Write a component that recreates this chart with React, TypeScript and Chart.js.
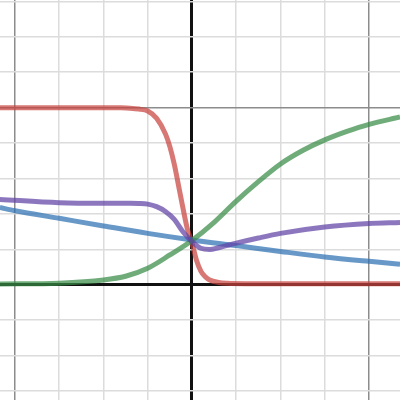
import { Chart, registerables, ChartConfiguration } from "chart.js";
import { useEffect, useRef } from "react";

Chart.register(...registerables);

// values (x: one major cell = 2, y: one major cell = 1)
const redX = [-2.17, -1.5, -1.0, -0.8, -0.7, -0.6, -0.5, -0.4, -0.3, -0.25, -0.2, -0.15, -0.1, -0.05, 0, 0.05, 0.1, 0.15, 0.2, 0.3, 0.4, 0.6, 1.0, 2.35];
const redY = [1.0, 1.0, 1.0, 0.999, 0.997, 0.992, 0.981, 0.94, 0.852, 0.78, 0.68, 0.555, 0.428, 0.311, 0.235, 0.14, 0.077, 0.045, 0.027, 0.013, 0.008, 0.006, 0.006, 0.006];

const blueX = [-2.17, -2.0, -1.5, -1.0, -0.5, 0, 0.5, 1.0, 1.5, 2.0, 2.35];
const blueY = [0.436, 0.418, 0.375, 0.332, 0.29, 0.253, 0.221, 0.188, 0.157, 0.132, 0.116];

const greenX = [-2.17, -1.5, -1.0, -0.75, -0.5, -0.25, 0, 0.25, 0.5, 0.75, 1.0, 1.25, 1.5, 1.75, 2.0, 2.35];
const greenY = [0.004, 0.009, 0.027, 0.048, 0.093, 0.168, 0.25, 0.352, 0.472, 0.582, 0.682, 0.758, 0.818, 0.866, 0.906, 0.947];

const purpleX = [-2.17, -1.5, -1.0, -0.7, -0.6, -0.5, -0.4, -0.3, -0.2, -0.1, 0, 0.1, 0.2, 0.3, 0.5, 0.75, 1.0, 1.5, 2.0, 2.35];
const purpleY = [0.482, 0.463, 0.46, 0.46, 0.459, 0.455, 0.441, 0.414, 0.369, 0.298, 0.244, 0.206, 0.199, 0.209, 0.235, 0.264, 0.29, 0.326, 0.346, 0.352];

const toPoints = (xs: number[], ys: number[]) => xs.map((x, i) => ({ x, y: ys[i] }));

const near = (v: number, step: number) => Math.abs(v / step - Math.round(v / step)) < 1e-6;

export default function App() {
  const chartRef = useRef<HTMLCanvasElement | null>(null);
  const chartInstance = useRef<Chart | null>(null);

  useEffect(() => {
    if (!chartRef.current) return;
    if (chartInstance.current) chartInstance.current.destroy();

    const line = (label: string, xs: number[], ys: number[], color: string, order: number) => ({
      label,
      data: toPoints(xs, ys),
      borderColor: color,
      borderWidth: 5,
      pointRadius: 0,
      fill: false,
      cubicInterpolationMode: "monotone" as const,
      order,
    });

    const gridColor = (major: number) => (ctx: any) => {
      const v = ctx.tick.value;
      if (Math.abs(v) < 1e-9) return "#111111";
      if (near(v, major)) return "#8c8c8c";
      return "#dcdcdc";
    };
    const gridWidth = (ctx: any) => (Math.abs(ctx.tick.value) < 1e-9 ? 3 : 1.5);

    chartInstance.current = new Chart(chartRef.current, {
      type: "line",
      data: {
        datasets: [
          line("red", redX, redY, "rgba(199,68,64,0.72)", 4),
          line("blue", blueX, blueY, "rgba(45,112,179,0.72)", 3),
          line("green", greenX, greenY, "rgba(56,140,70,0.72)", 2),
          line("purple", purpleX, purpleY, "rgba(96,66,166,0.72)", 1),
        ],
      },
      options: {
        animation: false,
        responsive: true,
        maintainAspectRatio: false,
        layout: { padding: 0 },
        plugins: { legend: { display: false }, tooltip: { enabled: false } },
        scales: {
          x: {
            type: "linear",
            min: -2.169,
            max: 2.35,
            border: { display: false },
            ticks: { display: false, stepSize: 0.5, includeBounds: false },
            grid: { drawTicks: false, color: gridColor(2), lineWidth: gridWidth },
          },
          y: {
            type: "linear",
            min: -0.651,
            max: 1.608,
            border: { display: false },
            ticks: { display: false, stepSize: 0.2, includeBounds: false },
            grid: { drawTicks: false, color: gridColor(1), lineWidth: gridWidth },
          },
        },
      },
    } as ChartConfiguration<"line">);

    return () => {
      if (chartInstance.current) {
        chartInstance.current.destroy();
        chartInstance.current = null;
      }
    };
  }, []);

  return (
    <div style={{ position: "fixed", top: 0, left: 0, width: 400, height: 400, background: "#fff" }}>
      <canvas ref={chartRef}></canvas>
    </div>
  );
}
